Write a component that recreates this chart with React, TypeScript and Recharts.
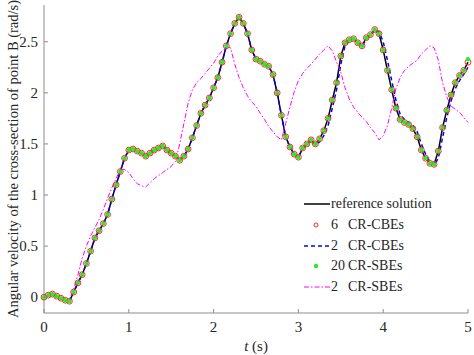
import React from 'react'
import { LineChart, Line, XAxis, YAxis, Legend } from 'recharts'

const times = [
  0, 0.05, 0.1, 0.15, 0.2, 0.25, 0.3, 0.35, 0.4, 0.45,
  0.5, 0.55, 0.6, 0.65, 0.7, 0.75, 0.8, 0.85, 0.9, 0.95,
  1, 1.05, 1.1, 1.15, 1.2, 1.25, 1.3, 1.35, 1.4, 1.45,
  1.5, 1.55, 1.6, 1.65, 1.7, 1.75, 1.8, 1.85, 1.9, 1.95,
  2, 2.05, 2.1, 2.15, 2.2, 2.25, 2.3, 2.35, 2.4, 2.45,
  2.5, 2.55, 2.6, 2.65, 2.7, 2.75, 2.8, 2.85, 2.9, 2.95,
  3, 3.05, 3.1, 3.15, 3.2, 3.25, 3.3, 3.35, 3.4, 3.45,
  3.5, 3.55, 3.6, 3.65, 3.7, 3.75, 3.8, 3.85, 3.9, 3.95,
  4, 4.05, 4.1, 4.15, 4.2, 4.25, 4.3, 4.35, 4.4, 4.45,
  4.5, 4.55, 4.6, 4.65, 4.7, 4.75, 4.8, 4.85, 4.9, 4.95,
  5,
]

// reference solution
const refValues = [
  0.0, 0.02, 0.03, 0.01, -0.01, -0.03, -0.04, 0.05, 0.14, 0.22,
  0.33, 0.45, 0.58, 0.65, 0.72, 0.81, 0.96, 1.1, 1.23, 1.36,
  1.44, 1.45, 1.43, 1.41, 1.38, 1.41, 1.44, 1.46, 1.48, 1.44,
  1.41, 1.38, 1.34, 1.38, 1.45, 1.56, 1.68, 1.8, 1.88, 1.95,
  2.05, 2.15, 2.3, 2.46, 2.58, 2.68, 2.74, 2.68, 2.58, 2.42,
  2.33, 2.31, 2.28, 2.26, 2.18, 2.0, 1.78, 1.57, 1.47, 1.4,
  1.37, 1.46, 1.5, 1.54, 1.5, 1.55, 1.63, 1.75, 1.93, 2.1,
  2.36, 2.49, 2.52, 2.53, 2.49, 2.46, 2.54, 2.57, 2.62, 2.58,
  2.42, 2.22, 2.03, 1.85, 1.74, 1.71, 1.69, 1.65, 1.57, 1.44,
  1.36, 1.31, 1.3, 1.43, 1.66, 1.83, 1.98, 2.1, 2.17, 2.22,
  2.3,
]

const cbe6Values = [
  0.0, 0.02, 0.03, 0.01, -0.01, -0.03, -0.04, 0.05, 0.14, 0.22,
  0.33, 0.45, 0.58, 0.65, 0.72, 0.81, 0.96, 1.1, 1.23, 1.36,
  1.44, 1.45, 1.43, 1.41, 1.38, 1.41, 1.44, 1.46, 1.48, 1.44,
  1.41, 1.38, 1.34, 1.38, 1.45, 1.56, 1.68, 1.8, 1.88, 1.95,
  2.05, 2.15, 2.3, 2.46, 2.58, 2.68, 2.74, 2.68, 2.58, 2.42,
  2.33, 2.31, 2.28, 2.26, 2.18, 2.0, 1.78, 1.57, 1.47, 1.4,
  1.37, 1.46, 1.5, 1.54, 1.5, 1.55, 1.63, 1.75, 1.93, 2.1,
  2.36, 2.49, 2.52, 2.53, 2.49, 2.46, 2.54, 2.57, 2.62, 2.58,
  2.42, 2.22, 2.03, 1.85, 1.74, 1.71, 1.69, 1.65, 1.57, 1.44,
  1.36, 1.31, 1.3, 1.43, 1.66, 1.83, 1.98, 2.1, 2.17, 2.22,
  2.3,
]

const cbe2Values = [
  0.0, 0.02, 0.03, 0.01, -0.01, -0.03, -0.04, 0.05, 0.14, 0.22,
  0.33, 0.45, 0.58, 0.65, 0.72, 0.81, 0.96, 1.1, 1.23, 1.36,
  1.44, 1.45, 1.43, 1.41, 1.38, 1.41, 1.44, 1.46, 1.48, 1.44,
  1.41, 1.38, 1.34, 1.38, 1.45, 1.56, 1.68, 1.8, 1.88, 1.95,
  2.05, 2.15, 2.3, 2.46, 2.58, 2.68, 2.74, 2.68, 2.58, 2.42,
  2.33, 2.31, 2.28, 2.26, 2.18, 2.0, 1.78, 1.57, 1.47, 1.4,
  1.37, 1.45, 1.5, 1.53, 1.49, 1.52, 1.58, 1.68, 1.85, 2.03,
  2.28, 2.46, 2.51, 2.53, 2.5, 2.46, 2.52, 2.57, 2.61, 2.6,
  2.5, 2.32, 2.12, 1.93, 1.79, 1.74, 1.71, 1.68, 1.62, 1.5,
  1.4, 1.33, 1.29, 1.36, 1.56, 1.76, 1.92, 2.04, 2.12, 2.18,
  2.25,
]

const sbe20Values = [
  0.0, 0.02, 0.03, 0.01, -0.01, -0.03, -0.04, 0.05, 0.14, 0.22,
  0.33, 0.45, 0.58, 0.65, 0.72, 0.81, 0.96, 1.1, 1.23, 1.36,
  1.44, 1.45, 1.43, 1.41, 1.38, 1.41, 1.44, 1.46, 1.48, 1.44,
  1.41, 1.38, 1.34, 1.38, 1.45, 1.56, 1.68, 1.8, 1.88, 1.95,
  2.05, 2.15, 2.3, 2.46, 2.58, 2.68, 2.74, 2.68, 2.58, 2.42,
  2.33, 2.31, 2.28, 2.26, 2.18, 2.0, 1.78, 1.57, 1.47, 1.4,
  1.37, 1.46, 1.5, 1.54, 1.5, 1.55, 1.63, 1.75, 1.93, 2.1,
  2.36, 2.49, 2.52, 2.53, 2.49, 2.46, 2.54, 2.57, 2.62, 2.58,
  2.42, 2.22, 2.03, 1.85, 1.74, 1.71, 1.69, 1.65, 1.57, 1.44,
  1.36, 1.31, 1.3, 1.43, 1.66, 1.83, 1.98, 2.1, 2.17, 2.22,
  2.33,
]

const sbe2Values = [
  0.0, 0.01, 0.02, 0.0, -0.02, -0.04, -0.02, 0.08, 0.22, 0.38,
  0.5, 0.6, 0.68, 0.76, 0.86, 0.97, 1.07, 1.16, 1.25, 1.25,
  1.22, 1.16, 1.11, 1.09, 1.08, 1.12, 1.16, 1.19, 1.22, 1.25,
  1.28, 1.33, 1.5, 1.7, 1.9, 2.03, 2.1, 2.14, 2.19, 2.24,
  2.29, 2.36, 2.41, 2.45, 2.44, 2.28, 2.15, 2.05, 1.97, 1.91,
  1.87, 1.8, 1.74, 1.67, 1.62, 1.57, 1.54, 1.7, 1.86, 2.01,
  2.12, 2.19, 2.24, 2.28, 2.33, 2.38, 2.42, 2.46, 2.41, 2.3,
  2.2, 2.05, 1.94, 1.86, 1.81, 1.76, 1.72, 1.66, 1.61, 1.54,
  1.58, 1.68, 1.85, 2.04, 2.15, 2.22, 2.26, 2.29, 2.32, 2.38,
  2.42, 2.46, 2.44, 2.32, 2.1, 1.96, 1.87, 1.84, 1.81, 1.76,
  1.71,
]

const xTicks = [0, 1, 2, 3, 4, 5]
const yTicks = [0, 0.5, 1, 1.5, 2, 2.5]

const seriesKeys = ['ref', 'cbe6', 'cbe2', 'sbe20', 'sbe2']
const seriesNames: Record<string, string> = {
  ref: 'reference solution',
  cbe6: '6 CR-CBEs',
  cbe2: '2 CR-CBEs',
  sbe20: '20 CR-SBEs',
  sbe2: '2 CR-SBEs',
}

const data = times.map((t, i) => ({
  t,
  ref: refValues[i],
  cbe6: cbe6Values[i],
  cbe2: cbe2Values[i],
  sbe20: sbe20Values[i],
  sbe2: sbe2Values[i],
}))

const FONT = '"Liberation Serif", "Times New Roman", serif'
const AXIS = '#8c8c8c'
const INK = '#262626'
const RED = '#ff2a2a'
const BLUE = '#0000ff'
const GREEN = '#2ee82e'
const MAGENTA = '#ff00ff'
const SBE2_DASH = '5 2 1.5 2'

function LeftTick(props: any) {
  const { x, y, payload } = props
  return (
    <g>
      <line x1={x + 6} x2={x + 10} y1={y} y2={y} stroke={AXIS} />
      <text x={x} y={y} dy={5} textAnchor="end" fontSize={15} fontFamily={FONT} fill={INK}>
        {payload.value}
      </text>
    </g>
  )
}

function BottomTick(props: any) {
  const { x, y, payload } = props
  return (
    <g>
      <line x1={x} x2={x} y1={y - 4} y2={y - 8} stroke={AXIS} />
      <text x={x} y={y + 15} textAnchor="middle" fontSize={15} fontFamily={FONT} fill={INK}>
        {payload.value}
      </text>
    </g>
  )
}

function RightTick(props: any) {
  const { x, y } = props
  return <line x1={x - 4} x2={x} y1={y} y2={y} stroke={AXIS} />
}

function TopTick(props: any) {
  const { x, y } = props
  return <line x1={x} x2={x} y1={y} y2={y + 4} stroke={AXIS} />
}

function YLabel(props: any) {
  const vb = props.viewBox || { x: 0, y: 5, width: 44, height: 308 }
  const cx = vb.x + 18
  const cy = vb.y + vb.height / 2
  return (
    <text
      x={cx}
      y={cy}
      transform={`rotate(-90, ${cx}, ${cy})`}
      textAnchor="middle"
      fontSize={14.5}
      fontFamily={FONT}
      fill={INK}
    >
      Angular velocity of the cross-section of point B (rad/s)
    </text>
  )
}

function XLabel(props: any) {
  const vb = props.viewBox || { x: 44, y: 313, width: 424, height: 42 }
  return (
    <text x={vb.x + vb.width / 2} y={vb.y + 38} textAnchor="middle" fontSize={15} fontFamily={FONT} fill={INK}>
      <tspan fontStyle="italic">t</tspan> (s)
    </text>
  )
}

function LegendSymbol({ k }: { k: string }) {
  return (
    <svg width={28} height={12} style={{ display: 'block' }}>
      {k === 'ref' && <line x1={1} x2={27} y1={6} y2={6} stroke="#000" strokeWidth={1.5} />}
      {k === 'cbe6' && <circle cx={13} cy={6} r={2} fill="none" stroke={RED} strokeWidth={1} />}
      {k === 'cbe2' && <line x1={1} x2={27} y1={6} y2={6} stroke={BLUE} strokeWidth={1.5} strokeDasharray="4 3" />}
      {k === 'sbe20' && <circle cx={13} cy={6} r={2.2} fill={GREEN} />}
      {k === 'sbe2' && <line x1={1} x2={27} y1={6} y2={6} stroke={MAGENTA} strokeWidth={1} strokeDasharray={SBE2_DASH} />}
    </svg>
  )
}

function renderLegend(props: any) {
  const items = ((props.payload || []) as any[])
    .slice()
    .sort((a, b) => seriesKeys.indexOf(a.dataKey) - seriesKeys.indexOf(b.dataKey))
  return (
    <div style={{ fontFamily: FONT, fontSize: 14, color: INK }}>
      {items.map((item) => {
        const name = String(item.value)
        const sp = name.indexOf(' ')
        const isCount = /^\d/.test(name)
        return (
          <div key={name} style={{ display: 'flex', alignItems: 'center', height: 20.7, whiteSpace: 'nowrap' }}>
            <LegendSymbol k={item.dataKey} />
            {isCount ? (
              <>
                <span style={{ display: 'inline-block', width: 17 }}>{name.slice(0, sp)}</span>
                <span>{name.slice(sp + 1)}</span>
              </>
            ) : (
              <span>{name}</span>
            )}
          </div>
        )
      })}
    </div>
  )
}

export default function App() {
  return (
    <div style={{ position: 'absolute', left: 0, top: 0, width: 474, height: 355, background: '#fff' }}>
      <LineChart width={474} height={355} data={data} margin={{ top: 5, right: 6, left: 0, bottom: 0 }}>
        <XAxis
          dataKey="t"
          type="number"
          domain={[0, 5]}
          ticks={xTicks}
          height={42}
          tickSize={0}
          tickMargin={4}
          tick={BottomTick}
          axisLine={{ stroke: AXIS }}
          label={<XLabel />}
        />
        <XAxis
          xAxisId="top"
          orientation="top"
          type="number"
          domain={[0, 5]}
          ticks={xTicks}
          height={0}
          tickSize={0}
          tickMargin={0}
          tick={TopTick}
          axisLine={{ stroke: AXIS }}
        />
        <YAxis
          type="number"
          domain={[-0.155, 2.86]}
          ticks={yTicks}
          width={44}
          tickSize={0}
          tickMargin={6}
          tick={LeftTick}
          axisLine={{ stroke: AXIS }}
          allowDataOverflow
          label={<YLabel />}
        />
        <YAxis
          yAxisId="r"
          orientation="right"
          type="number"
          domain={[-0.155, 2.86]}
          ticks={yTicks}
          width={0}
          tickSize={0}
          tickMargin={0}
          tick={RightTick}
          axisLine={{ stroke: AXIS }}
          allowDataOverflow
        />
        <Line
          dataKey="ref"
          name={seriesNames.ref}
          type="linear"
          stroke="#000"
          strokeWidth={1.5}
          dot={false}
          activeDot={false}
          isAnimationActive={false}
        />
        <Line
          dataKey="cbe6"
          name={seriesNames.cbe6}
          type="linear"
          stroke="none"
          dot={{ r: 2.9, stroke: RED, strokeWidth: 1, fill: 'none' }}
          activeDot={false}
          isAnimationActive={false}
        />
        <Line
          dataKey="cbe2"
          name={seriesNames.cbe2}
          type="linear"
          stroke={BLUE}
          strokeWidth={1.5}
          strokeDasharray="4 3"
          dot={false}
          activeDot={false}
          isAnimationActive={false}
        />
        <Line
          dataKey="sbe20"
          name={seriesNames.sbe20}
          type="linear"
          stroke="none"
          dot={{ r: 2.2, stroke: 'none', fill: GREEN }}
          activeDot={false}
          isAnimationActive={false}
        />
        <Line
          dataKey="sbe2"
          name={seriesNames.sbe2}
          type="linear"
          stroke={MAGENTA}
          strokeWidth={1}
          strokeDasharray={SBE2_DASH}
          dot={false}
          activeDot={false}
          isAnimationActive={false}
        />
        <Legend
          layout="horizontal"
          verticalAlign="middle"
          align="center"
          content={renderLegend}
          wrapperStyle={{ position: 'absolute', left: 303, top: 194, width: 150, height: 104 }}
        />
      </LineChart>
    </div>
  )
}
